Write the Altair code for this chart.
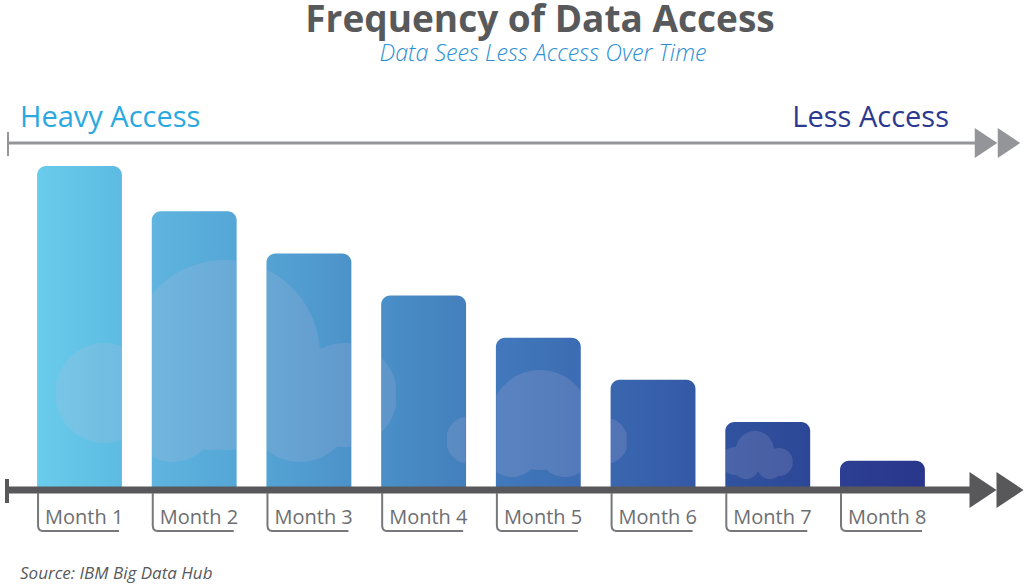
import altair as alt
import pandas as pd
import numpy as np

# ---- data ----
months = [1, 2, 3, 4, 5, 6, 7, 8]
labels = ["Month  1", "Month  2", "Month  3", "Month  4", "Month  5", "Month  6", "Month  7", "Month  8"]
access = [100, 86, 73, 60, 47, 34, 21, 9]

# ---- styles ----
bar_colors = [
    ("#6accec", "#5dbbe2"),
    ("#5fb5df", "#54a6d6"),
    ("#54a3d4", "#4c92ca"),
    ("#4a90c8", "#437fbc"),
    ("#4279bc", "#3c6cb3"),
    ("#3a67b0", "#3459a7"),
    ("#31539f", "#2c4797"),
    ("#2c3f92", "#29368b"),
]
W, H = 1024, 585
X0, X1 = 0.307, 9.234
Y0, Y1 = -29.3, 151.2
BAR_HALF = 0.37

def px2x(px):
    return X0 + np.asarray(px, dtype=float) / W * (X1 - X0)

def x2px(x):
    return (np.asarray(x, dtype=float) - X0) / (X1 - X0) * W

def py2y(py):
    return Y1 - np.asarray(py, dtype=float) / H * (Y1 - Y0)

def y2py(y):
    return (Y1 - np.asarray(y, dtype=float)) / (Y1 - Y0) * H

df = pd.DataFrame({"month": months, "label": labels, "access": access})
df["x0"] = df["month"] - BAR_HALF
df["x1"] = df["month"] + BAR_HALF
df["zero"] = 0

xs = alt.Scale(domain=[X0, X1], nice=False, zero=False)
ys = alt.Scale(domain=[Y0, Y1], nice=False, zero=False)

base = alt.Chart(df)

bars = []
for i, (c0, c1) in enumerate(bar_colors):
    bars.append(
        base.transform_filter(alt.datum.month == months[i])
        .mark_bar(
            cornerRadiusTopLeft=9,
            cornerRadiusTopRight=9,
            color=alt.Gradient(
                gradient="linear",
                stops=[alt.GradientStop(color=c0, offset=0), alt.GradientStop(color=c1, offset=1)],
                x1=0, x2=1, y1=0, y2=0,
            ),
        )
        .encode(
            x=alt.X("x0:Q", scale=xs, axis=None),
            x2="x1:Q",
            y=alt.Y("access:Q", scale=ys, axis=None),
            y2="zero:Q",
        )
    )

# ---- decorative clouds (pixel circles: cx, cy, r), clipped to the bars ----
cloud_shapes = {
    "c1": [(105, 393, 50), (165, 345, 30), (225, 355, 95), (345, 395, 52),
           (173, 420, 42), (210, 410, 40), (300, 410, 52)],
    "c2": [(470, 440, 24), (500, 436, 28), (540, 420, 50), (512, 450, 27),
           (565, 450, 27), (605, 441, 23)],
    "c3": [(755, 450, 19), (735, 461, 14), (779, 462, 14), (746, 466, 13), (770, 466, 13)],
}
bar_px = [(float(x2px(a)), float(x2px(b)), float(y2py(v))) for a, b, v in zip(df["x0"], df["x1"], df["access"])]
rows = []
for name, circles in cloud_shapes.items():
    for bi, (bl, br, bt) in enumerate(bar_px):
        seg = f"{name}-{bi}"
        for px in np.linspace(bl + 0.5, br - 0.5, 60):
            tops, bots = [], []
            for cx, cy, r in circles:
                d = r * r - (px - cx) ** 2
                if d >= 0:
                    tops.append(cy - np.sqrt(d))
                    bots.append(cy + np.sqrt(d))
            if tops:
                top = max(min(tops), bt + 3)
                bot = min(max(bots), 486)
                if bot > top:
                    rows.append({"seg": seg, "x": float(px2x(px)),
                                 "top": float(py2y(top)), "bot": float(py2y(bot))})
clouds_df = pd.DataFrame(rows)
clouds = alt.Chart(clouds_df).mark_area(color="#d2bede", opacity=0.17).encode(
    x=alt.X("x:Q", scale=xs, axis=None),
    y=alt.Y("top:Q", scale=ys, axis=None),
    y2="bot:Q",
    detail="seg:N",
)

# ---- brackets under labels (rounded corner) ----
bpx = [(1, 493), (1, 526), (1.6, 528.7), (3.2, 530.4), (5.5, 531), (82, 531)]
brows = []
for m, x0 in zip(months, df["x0"]):
    for j, (dx, py) in enumerate(bpx):
        brows.append({"month": m, "o": j, "bx": x0 + dx / W * (X1 - X0), "by": float(py2y(py))})
brackets = alt.Chart(pd.DataFrame(brows)).mark_line(color="#77787b", strokeWidth=2).encode(
    x=alt.X("bx:Q", scale=xs, axis=None),
    y=alt.Y("by:Q", scale=ys, axis=None),
    detail="month:N",
    order="o:Q",
)

month_text = base.mark_text(
    align="left", baseline="alphabetic", font="Open Sans", fontSize=20, color="#6d6e71", dx=8
).encode(x=alt.X("x0:Q", scale=xs, axis=None), y=alt.value(524), text="label:N")

one = pd.DataFrame({"k": [0]})
def rule(x, x2=None, y=None, y2=None, **kw):
    enc = {"x": alt.value(x), "y": alt.value(y)}
    if x2 is not None:
        enc["x2"] = alt.value(x2)
    if y2 is not None:
        enc["y2"] = alt.value(y2)
    return alt.Chart(one).mark_rule(**kw).encode(**enc)

tri = "M-0.75,-1L0.75,0L-0.75,1Z"
def head(x, y, size, color):
    return alt.Chart(one).mark_point(
        shape=tri, filled=True, opacity=1, color=color, size=size, strokeWidth=0
    ).encode(x=alt.value(x), y=alt.value(y))

# bottom axis arrow
axis_line = rule(5, 985, 490, color="#58585a", strokeWidth=7)
axis_tick = rule(7, None, 479, 503, color="#58585a", strokeWidth=4)
axis_heads = [head(983, 490, 1296, "#58585a"), head(1010, 490, 1296, "#58585a")]

# top arrow
top_line = rule(7, 985, 143, color="#939598", strokeWidth=3)
top_tick = rule(8, None, 132, 156, color="#939598", strokeWidth=2)
top_heads = [head(986, 143, 900, "#939598"), head(1009, 143, 900, "#939598")]

def txt(s, x, y, **kw):
    return alt.Chart(pd.DataFrame({"t": [s]})).mark_text(font="Open Sans", **kw).encode(
        x=alt.value(x), y=alt.value(y), text="t:N"
    )

title = txt("Frequency of Data Access", 540, 32, fontSize=37, fontWeight="bold", color="#58595b",
            align="center", baseline="alphabetic")
subtitle = txt("Data Sees Less Access Over Time", 543, 61, fontSize=23.3, fontStyle="italic",
               fontWeight=300, color="#2b8fd3", align="center", baseline="alphabetic")
heavy = txt("Heavy Access", 20, 127, fontSize=29, fontWeight=500, color="#29a9e0", align="left",
            baseline="alphabetic")
less = txt("Less Access", 949, 127, fontSize=29, fontWeight=500, color="#2b3990", align="right",
           baseline="alphabetic")
source = txt("Source: IBM Big Data Hub", 20, 579, fontSize=17, fontStyle="italic", color="#58595b",
             align="left", baseline="alphabetic")

chart = alt.layer(
    *bars, clouds, axis_line, axis_tick, *axis_heads, brackets, month_text,
    top_line, top_tick, *top_heads, title, subtitle, heavy, less, source
).properties(
    width=W, height=H, autosize=alt.AutoSizeParams(type="none"), padding=0, background="white"
).configure_view(stroke=None)

chart.save("out.html", embed_options={"renderer": "svg", "actions": False})
